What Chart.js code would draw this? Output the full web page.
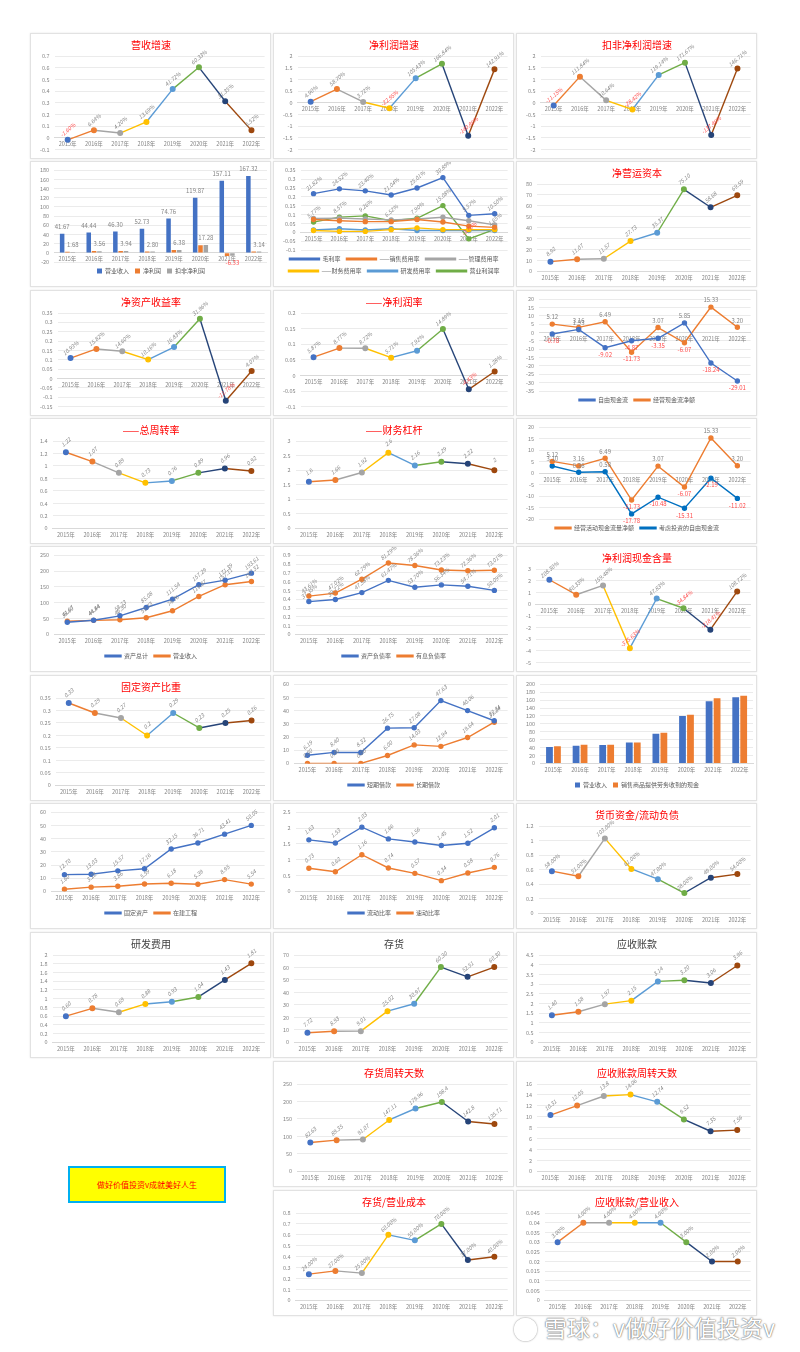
<!DOCTYPE html>
<html>
<head>
<meta charset="utf-8">
<script src="https://cdn.jsdelivr.net/npm/chart.js@4.4.1/dist/chart.umd.min.js"></script>
<style>
  body { margin: 0; background: #fff; width: 800px; height: 1352px; position: relative; overflow: hidden; font-family: "Noto Sans CJK SC", "Noto Sans", sans-serif; }
  .panel { position: absolute; width: 241px; height: 126px; border: 1px solid #e2e2e2; box-shadow: 0 0 2px rgba(0,0,0,0.10); background: #fff; box-sizing: border-box; }
  .panel canvas { display: block; }
  .motto { position: absolute; left: 68px; top: 1166px; width: 158px; height: 37px; box-sizing: border-box; background: #ffff00; border: 2px solid #00b0f0; color: #ff0000; font-size: 8px; line-height: 33px; text-align: center; }
  .mark { position: absolute; left: 514px; top: 1311px; color: #fff; font-size: 23px; line-height: 32px; text-shadow: 0 0 2px #777, 0 0 1px #555; white-space: nowrap; }
  .mark .logo { display: inline-block; width: 23px; height: 23px; border: 3px solid #fff; border-radius: 50%; box-shadow: 0 0 2px #777; vertical-align: -4px; margin-right: 7px; box-sizing: border-box; }
</style>
</head>
<body>
<div class="motto">做好价值投资v成就美好人生</div>
<div class="mark"><span class="logo"></span>雪球：v做好价值投资v</div>
<script>
const years = ['2015年', '2016年', '2017年', '2018年', '2019年', '2020年', '2021年', '2022年'];

// 增速
const revenueGrowth = [-0.016, 0.0664, 0.042, 0.1369, 0.4172, 0.6033, 0.3135, 0.0652];
const netProfitGrowth = [0.049, 0.587, 0.0372, -0.2295, 1.0543, 1.6684, -1.4086, 1.4291];
const deductedGrowth = [-0.1115, 1.1184, 0.1064, -0.2842, 1.1914, 1.7167, -1.3746, 1.4671];

// 收入与利润
const revenue = [41.67, 44.44, 46.30, 52.73, 74.76, 119.87, 157.11, 167.32];
const netProfit = [2.4, 3.8, 3.9, 3.0, 6.2, 16.6, -6.8, 3.0];
const deductedProfit = [1.68, 3.56, 3.94, 2.80, 6.38, 17.28, -6.33, 3.14];

// 费用率
const grossMargin = [0.2182, 0.2452, 0.2340, 0.2104, 0.2501, 0.3089, 0.0957, 0.1050];
const sellingRate = [0.072, 0.065, 0.060, 0.060, 0.072, 0.058, 0.035, 0.028];
const adminRate = [0.078, 0.080, 0.075, 0.070, 0.075, 0.085, 0.065, 0.042];
const financeRate = [0.010, 0.005, 0.005, 0.015, 0.025, 0.015, 0.015, 0.015];
const rdRate = [0.013, 0.020, 0.013, 0.020, 0.010, 0.010, 0.010, 0.010];
const opMargin = [0.0577, 0.0857, 0.0926, 0.0652, 0.0790, 0.1508, -0.0370, 0.0165];

const workingCapital = [8.92, 11.07, 11.57, 27.73, 35.37, 75.10, 58.68, 69.59];
const roe = [0.1093, 0.1582, 0.1460, 0.1016, 0.1683, 0.3196, -0.1178, 0.0407];
const netMargin = [0.0587, 0.0877, 0.0872, 0.0571, 0.0792, 0.1489, -0.0443, 0.0128];

// 现金流
const freeCashFlow = [-0.78, 1.93, -9.02, -4.87, -3.35, 5.85, -18.24, -29.01];
const operatingCashFlow = [5.12, 3.16, 6.49, -11.73, 3.07, -6.07, 15.33, 3.20];
const investFreeCashFlow = [3.10, 0.36, 0.58, -17.78, -10.48, -15.31, -2.19, -11.02];

const totalTurnover = [1.22, 1.07, 0.89, 0.73, 0.76, 0.89, 0.96, 0.92];
const leverage = [1.6, 1.66, 1.92, 2.6, 2.16, 2.29, 2.22, 2];

const totalAssets = [38.6, 44.84, 58.73, 85.08, 111.54, 157.29, 171.39, 193.61];
const debtRatio = [0.3735, 0.3972, 0.4758, 0.6147, 0.5370, 0.5634, 0.5471, 0.5009];
const interestDebtRatio = [0.4361, 0.4702, 0.6279, 0.8129, 0.7836, 0.7323, 0.7236, 0.7301];
const cashContent = [2.0830, 0.8033, 1.5948, -3.7563, 0.4783, -0.3484, -2.1841, 1.0872];

const fixedAssetShare = [0.33, 0.29, 0.27, 0.2, 0.29, 0.23, 0.25, 0.26];
const shortLoans = [6.19, 8.40, 8.32, 26.75, 27.08, 47.63, 40.06, 32.34];
const longLoans = [0, 0, 0, 6.00, 14.03, 12.94, 19.64, 31.24];
const salesCash = [43.2, 47.1, 47.0, 52.6, 77.3, 123.1, 164.6, 170.8];

const fixedAssets = [12.70, 13.03, 15.57, 17.16, 32.15, 36.71, 43.41, 50.05];
const construction = [1.60, 3.22, 3.86, 5.59, 6.18, 5.39, 8.95, 5.54];
const currentRatio = [1.63, 1.53, 2.03, 1.66, 1.56, 1.45, 1.52, 2.01];
const quickRatio = [0.73, 0.62, 1.16, 0.74, 0.57, 0.34, 0.58, 0.76];
const cashToCurrentDebt = [0.58, 0.51, 1.03, 0.61, 0.47, 0.28, 0.49, 0.54];

const rdExpense = [0.60, 0.78, 0.69, 0.88, 0.93, 1.04, 1.43, 1.81];
const inventory = [7.72, 8.93, 9.01, 25.02, 30.97, 60.30, 52.51, 60.30];
const receivables = [1.40, 1.58, 1.97, 2.15, 3.14, 3.20, 3.06, 3.96];
const inventoryDays = [82.63, 89.35, 91.07, 147.11, 179.96, 198.4, 142.8, 135.71];
const receivableDays = [10.31, 12.05, 13.8, 14.06, 12.74, 9.52, 7.35, 7.56];
const inventoryToCost = [0.24, 0.27, 0.25, 0.60, 0.55, 0.70, 0.37, 0.40];
const receivableToRevenue = [0.03, 0.04, 0.04, 0.04, 0.04, 0.03, 0.02, 0.02];

// Excel 配色, 每段一种颜色
const SEG = ['#4472C4', '#ED7D31', '#A5A5A5', '#FFC000', '#5B9BD5', '#70AD47', '#264478', '#9E480E'];
const FONT = '"Noto Sans CJK SC", "Noto Sans", sans-serif';
const COLS = [30, 273, 516];
const ROWS = [33, 161, 290, 418, 546, 675, 803, 932, 1061, 1190];

const fmt = {
  pct: v => (v * 100).toFixed(2) + '%',
  n2: v => v.toFixed(2),
  raw: v => String(v)
};

// 数据标签
const valueLabels = {
  id: 'valueLabels',
  afterDatasetsDraw(chart) {
    const ctx = chart.ctx;
    chart.data.datasets.forEach((ds, i) => {
      if (!ds.fmt) return;
      const meta = chart.getDatasetMeta(i);
      meta.data.forEach((el, j) => {
        const v = ds.data[j];
        const txt = fmt[ds.fmt](v);
        ctx.save();
        ctx.fillStyle = v < 0 ? '#FF4B4B' : '#858585';
        if (ds.flat) {
          ctx.font = '6px ' + FONT;
          ctx.textAlign = 'center';
          ctx.textBaseline = v < 0 ? 'top' : 'bottom';
          ctx.fillText(txt, el.x, v < 0 ? el.y + 4 : el.y - 4);
        } else {
          ctx.font = 'italic 5.5px ' + FONT;
          ctx.translate(el.x, el.y - 10);
          ctx.rotate(-0.7);
          ctx.textAlign = 'center';
          ctx.textBaseline = 'middle';
          ctx.fillText(txt, 0, 0);
        }
        ctx.restore();
      });
    });
  }
};

function segLine(values, fmtName) {
  return {
    data: values,
    borderWidth: 1.4,
    pointRadius: 2.3,
    pointBackgroundColor: values.map((v, i) => SEG[i]),
    pointBorderColor: values.map((v, i) => SEG[i]),
    borderColor: SEG[0],
    segment: { borderColor: c => SEG[c.p0DataIndex + 1] },
    tension: 0,
    fmt: fmtName
  };
}

function line(label, values, color, fmtName, flat) {
  return {
    label: label,
    data: values,
    borderColor: color,
    backgroundColor: color,
    pointBackgroundColor: color,
    pointBorderColor: color,
    borderWidth: 1.4,
    pointRadius: 2,
    tension: 0,
    fmt: fmtName,
    flat: flat
  };
}

function bar(label, values, color, fmtName) {
  return {
    label: label,
    data: values,
    backgroundColor: color,
    categoryPercentage: 0.6,
    barPercentage: 0.85,
    fmt: fmtName,
    flat: true
  };
}

function makePanel(col, row) {
  const div = document.createElement('div');
  div.className = 'panel';
  div.style.left = COLS[col] + 'px';
  div.style.top = ROWS[row] + 'px';
  const canvas = document.createElement('canvas');
  div.appendChild(canvas);
  document.body.appendChild(div);
  return canvas;
}

function draw(col, row, o) {
  const canvas = makePanel(col, row);
  const isBar = o.type === 'bar';
  new Chart(canvas, {
    type: o.type || 'line',
    data: { labels: years, datasets: o.datasets },
    options: {
      responsive: true,
      maintainAspectRatio: false,
      animation: false,
      layout: { padding: { left: 4, right: 3, top: o.title ? 0 : 8, bottom: 2 } },
      plugins: {
        title: {
          display: !!o.title,
          text: o.title,
          color: o.titleColor || '#FF0000',
          font: { family: FONT, size: 10, weight: 'normal' },
          padding: { top: 5, bottom: 5 }
        },
        legend: {
          display: !!o.legend,
          position: 'bottom',
          labels: {
            color: '#595959',
            font: { family: FONT, size: 6 },
            boxWidth: o.legendBox || (isBar ? 5 : 16),
            boxHeight: isBar ? 5 : 1.5,
            padding: 6
          }
        },
        tooltip: { enabled: false }
      },
      scales: {
        x: {
          offset: true,
          position: o.min < 0 ? { y: 0 } : 'bottom',
          ticks: { color: '#858585', font: { family: FONT, size: 5.5 }, maxRotation: 0, autoSkip: false, padding: 3 },
          grid: { display: false, drawTicks: false },
          border: { color: '#d9d9d9' }
        },
        y: {
          min: o.min,
          max: o.max,
          ticks: {
            stepSize: o.step,
            autoSkip: false,
            color: '#858585',
            font: { family: FONT, size: 5.5 },
            padding: 5,
            callback: v => String(+v.toFixed(4))
          },
          grid: { color: '#e3e3e3', lineWidth: 0.7, drawTicks: false },
          border: { display: false }
        }
      }
    },
    plugins: [valueLabels]
  });
}

// 第一行
draw(0, 0, { title: '营收增速', min: -0.1, max: 0.7, step: 0.1, datasets: [segLine(revenueGrowth, 'pct')] });
draw(1, 0, { title: '净利润增速', min: -2, max: 2, step: 0.5, datasets: [segLine(netProfitGrowth, 'pct')] });
draw(2, 0, { title: '扣非净利润增速', min: -2, max: 2, step: 0.5, datasets: [segLine(deductedGrowth, 'pct')] });

// 第二行
draw(0, 1, {
  type: 'bar', min: -20, max: 180, step: 20, legend: true,
  datasets: [bar('营业收入', revenue, '#4472C4', 'n2'), bar('净利润', netProfit, '#ED7D31'), bar('扣非净利润', deductedProfit, '#A5A5A5', 'n2')]
});
draw(1, 1, {
  min: -0.1, max: 0.35, step: 0.05, legend: true, legendBox: 30,
  datasets: [
    line('毛利率', grossMargin, '#4472C4', 'pct'),
    line('——销售费用率', sellingRate, '#ED7D31'),
    line('——管理费用率', adminRate, '#A5A5A5'),
    line('——财务费用率', financeRate, '#FFC000'),
    line('研发费用率', rdRate, '#5B9BD5'),
    line('营业利润率', opMargin, '#70AD47', 'pct')
  ]
});
draw(2, 1, { title: '净营运资本', min: 0, max: 80, step: 10, datasets: [segLine(workingCapital, 'n2')] });

// 第三行
draw(0, 2, { title: '净资产收益率', min: -0.15, max: 0.35, step: 0.05, datasets: [segLine(roe, 'pct')] });
draw(1, 2, { title: '——净利润率', min: -0.1, max: 0.2, step: 0.05, datasets: [segLine(netMargin, 'pct')] });
draw(2, 2, {
  min: -35, max: 20, step: 5, legend: true,
  datasets: [line('自由现金流', freeCashFlow, '#4472C4', 'n2', true), line('经营现金流净额', operatingCashFlow, '#ED7D31', 'n2', true)]
});

// 第四行
draw(0, 3, { title: '——总周转率', min: 0, max: 1.4, step: 0.2, datasets: [segLine(totalTurnover, 'raw')] });
draw(1, 3, { title: '——财务杠杆', min: 0, max: 3, step: 0.5, datasets: [segLine(leverage, 'raw')] });
draw(2, 3, {
  min: -20, max: 20, step: 5, legend: true,
  datasets: [line('经营活动现金流量净额', operatingCashFlow, '#ED7D31', 'n2', true), line('考虑投资的自由现金流', investFreeCashFlow, '#0070C0', 'n2', true)]
});

// 第五行
draw(0, 4, {
  min: 0, max: 250, step: 50, legend: true,
  datasets: [line('资产总计', totalAssets, '#4472C4', 'n2'), line('营业收入', revenue, '#ED7D31', 'n2')]
});
draw(1, 4, {
  min: 0, max: 0.9, step: 0.1, legend: true,
  datasets: [line('资产负债率', debtRatio, '#4472C4', 'pct'), line('有息负债率', interestDebtRatio, '#ED7D31', 'pct')]
});
draw(2, 4, { title: '净利润现金含量', min: -5, max: 3, step: 1, datasets: [segLine(cashContent, 'pct')] });

// 第六行
draw(0, 5, { title: '固定资产比重', min: 0, max: 0.35, step: 0.05, datasets: [segLine(fixedAssetShare, 'raw')] });
draw(1, 5, {
  min: 0, max: 60, step: 10, legend: true,
  datasets: [line('短期借款', shortLoans, '#4472C4', 'n2'), line('长期借款', longLoans, '#ED7D31', 'n2')]
});
draw(2, 5, {
  type: 'bar', min: 0, max: 200, step: 20, legend: true,
  datasets: [bar('营业收入', revenue, '#4472C4'), bar('销售商品提供劳务收到的现金', salesCash, '#ED7D31')]
});

// 第七行
draw(0, 6, {
  min: 0, max: 60, step: 10, legend: true,
  datasets: [line('固定资产', fixedAssets, '#4472C4', 'n2'), line('在建工程', construction, '#ED7D31', 'n2')]
});
draw(1, 6, {
  min: 0, max: 2.5, step: 0.5, legend: true,
  datasets: [line('流动比率', currentRatio, '#4472C4', 'n2'), line('速动比率', quickRatio, '#ED7D31', 'n2')]
});
draw(2, 6, { title: '货币资金/流动负债', min: 0, max: 1.2, step: 0.2, datasets: [segLine(cashToCurrentDebt, 'pct')] });

// 第八行
draw(0, 7, { title: '研发费用', titleColor: '#404040', min: 0, max: 2, step: 0.2, datasets: [segLine(rdExpense, 'n2')] });
draw(1, 7, { title: '存货', titleColor: '#404040', min: 0, max: 70, step: 10, datasets: [segLine(inventory, 'n2')] });
draw(2, 7, { title: '应收账款', titleColor: '#404040', min: 0, max: 4.5, step: 0.5, datasets: [segLine(receivables, 'n2')] });

// 第九、十行
draw(1, 8, { title: '存货周转天数', min: 0, max: 250, step: 50, datasets: [segLine(inventoryDays, 'raw')] });
draw(2, 8, { title: '应收账款周转天数', min: 0, max: 16, step: 2, datasets: [segLine(receivableDays, 'raw')] });
draw(1, 9, { title: '存货/营业成本', min: 0, max: 0.8, step: 0.1, datasets: [segLine(inventoryToCost, 'pct')] });
draw(2, 9, { title: '应收账款/营业收入', min: 0, max: 0.045, step: 0.005, datasets: [segLine(receivableToRevenue, 'pct')] });
</script>
</body>
</html>
